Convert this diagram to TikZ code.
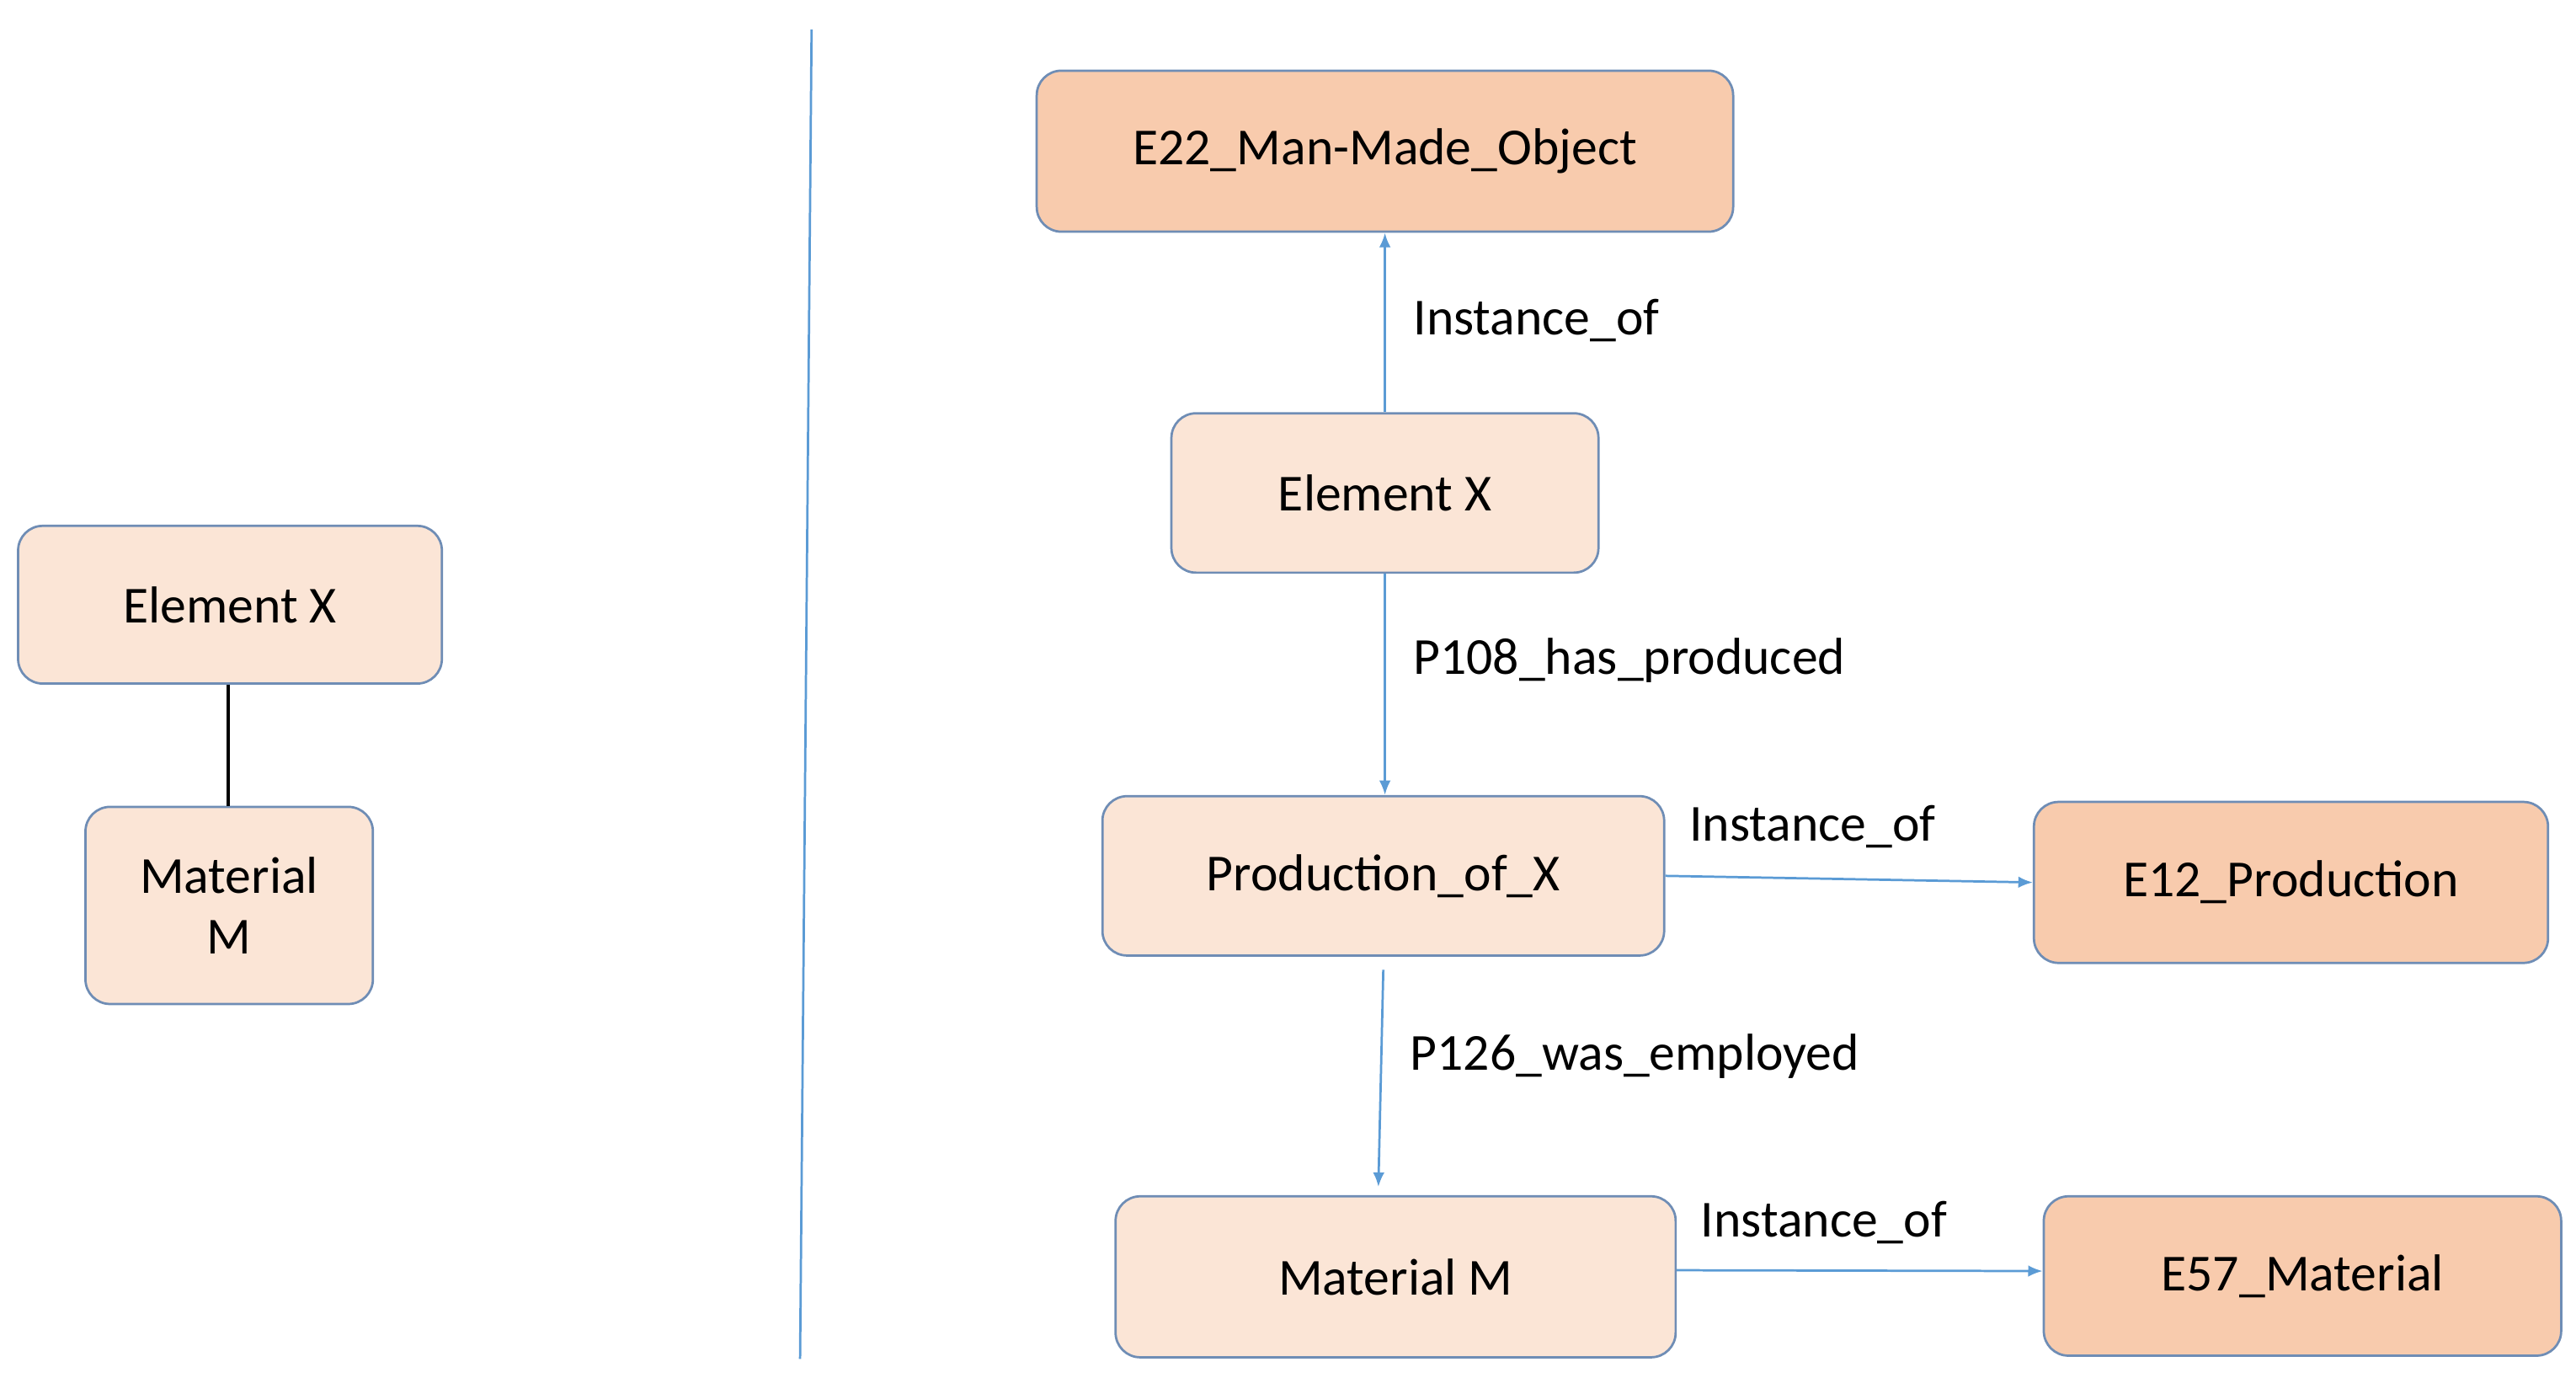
\documentclass[tikz,border=0pt]{standalone}
\usepackage{fontspec}
\setmainfont{Carlito}
\usetikzlibrary{arrows.meta}
\definecolor{lite}{HTML}{FBE5D6}
\definecolor{dark}{HTML}{F8CBAD}
\definecolor{bord}{HTML}{6F8DB5}
\definecolor{arr}{HTML}{5B9BD5}
\begin{document}
\begin{tikzpicture}[x=0.02cm,y=-0.02cm,
  box/.style={draw=bord,line width=0.8pt,rounded corners=0.3cm,fill=lite,font=\fontsize{18}{21}\selectfont,inner sep=0pt,align=center},
  cls/.style={box,fill=dark},
  rel/.style={draw=arr,line width=0.8pt,-{Latex[length=5pt,width=4pt]}},
  lbl/.style={font=\fontsize{18}{22}\selectfont,anchor=west,inner sep=0pt}]
\useasboundingbox (0,0) rectangle (1568,848);
\draw[arr,line width=0.8pt] (494,18) coordinate (vt) -- (487,827) coordinate (vb);
\node[cls,minimum width=8.48cm,minimum height=1.96cm] (e22) at (843,92) {E22\_Man-Made\_Object};
\node[box,minimum width=5.2cm,minimum height=1.94cm] (ex) at (843,300) {Element X};
\node[box,minimum width=6.84cm,minimum height=1.94cm] (px) at (842,533) {Production\_of\_X};
\node[cls,minimum width=6.26cm,minimum height=1.96cm] (e12) at (1394.5,537) {E12\_Production};
\node[box,minimum width=6.82cm,minimum height=1.96cm] (mm) at (849.5,777) {Material M};
\node[cls,minimum width=6.3cm,minimum height=1.94cm] (e57) at (1401.5,776.5) {E57\_Material};
\node[box,minimum width=5.16cm,minimum height=1.92cm] (exl) at (140,368) {Element X};
\node[box,minimum width=3.5cm,minimum height=2.4cm] (mml) at (139.5,551) {Material\\M};
\draw[black,line width=1.2pt] (exl.south -| 139,0) -- (mml.north -| 139,0);
\draw[rel] (ex.north) -- (e22.south);
\draw[rel] (ex.south) -- (px.north -| ex.south);
\draw[rel] ([yshift=-0.16cm]px.south) -- ([xshift=-0.06cm,yshift=0.1cm]mm.north -| px.south);
\draw[rel] (px.east) -- (e12.west);
\draw[rel] ([yshift=0.08cm]mm.east) -- ([yshift=0.06cm]e57.west);
\node[lbl] (l1) at (860,195) {Instance\_of};
\node[lbl] (l2) at (860,402) {P108\_has\_produced};
\node[lbl] (l3) at (1028,503) {Instance\_of};
\node[lbl] (l4) at (858,643) {P126\_was\_employed};
\node[lbl] (l5) at (1035,744) {Instance\_of};
\end{tikzpicture}
\end{document}
